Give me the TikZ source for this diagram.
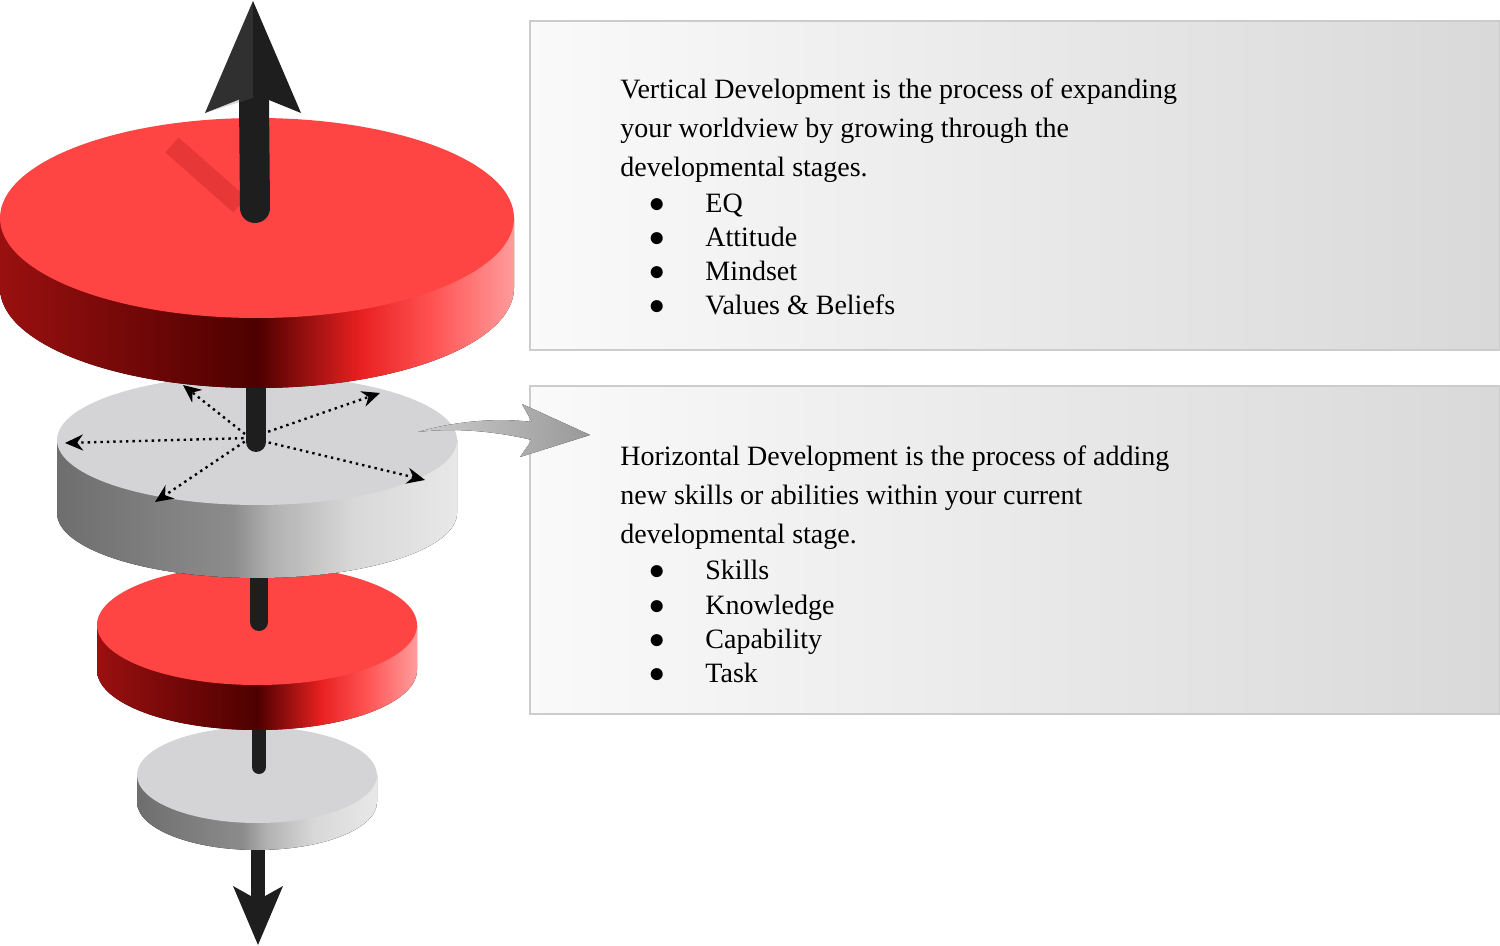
\documentclass[tikz,border=0pt]{standalone}
\usepackage{fontspec}
\setmainfont{Liberation Serif}
\usetikzlibrary{arrows.meta}
\definecolor{rA}{HTML}{9A1010}\definecolor{rB}{HTML}{4E0000}\definecolor{rC}{HTML}{E82020}\definecolor{rD}{HTML}{FF5252}\definecolor{rE}{HTML}{FF9C9C}
\definecolor{gA}{HTML}{6E6E6E}\definecolor{gB}{HTML}{8C8C8C}\definecolor{gC}{HTML}{B2B2B2}\definecolor{gD}{HTML}{D8D8D8}\definecolor{gE}{HTML}{E8E8E8}
\definecolor{redtop}{HTML}{FF4444}\definecolor{graytop}{HTML}{D4D4D6}\definecolor{shaft}{HTML}{1E1E1E}
\pgfdeclarehorizontalshading{redside}{100bp}{color(0bp)=(rA); color(25bp)=(rA); color(50bp)=(rB); color(60bp)=(rC); color(67bp)=(rD); color(75bp)=(rE); color(100bp)=(rE)}
\pgfdeclarehorizontalshading{grayside}{100bp}{color(0bp)=(gA); color(25bp)=(gA); color(47bp)=(gB); color(52bp)=(gC); color(62bp)=(gD); color(75bp)=(gE); color(100bp)=(gE)}
\newcommand{\mydisk}[7]{% cx, cytop, cybot, rx(pt), ry(pt), shading, topcolor
  \fill[shading=#6] (#1,#2) ++(-#4,0) -- ++(0,{(#2-#3)*0.5pt}) arc[start angle=180,end angle=360,x radius=#4,y radius=#5] -- ++(0,{(#3-#2)*0.5pt}) -- cycle;
  \fill[#7] (#1,#2) ellipse[x radius=#4,y radius=#5];}
\tikzset{txt/.style={anchor=base west,inner sep=0pt,font=\fontsize{14}{16}\selectfont},
 dot/.style={dotted,line width=1.2pt,-{Stealth[length=9pt,width=8pt]}},
 box/.style={draw=black!20,line width=0.6pt,left color=black!2,right color=black!15}}
\begin{document}
\begin{tikzpicture}[x=0.5pt,y=-0.5pt]
\useasboundingbox (0,0) rectangle (1500,946);
% boxes
\path[box] (530,21) rectangle (1500,350);
\path[box] (530,386) rectangle (1500,714);
% bottom arrow
\draw[shaft,line width=7pt] (258,850) -- (258,900);
\fill[shaft] (258,945) -- (283,886) -- (258,900) -- (233,886) -- cycle;
% disk 4
\mydisk{257}{775}{802}{60pt}{24pt}{grayside}{graytop}
\draw[shaft,line width=7pt,line cap=round] (259,727) -- (259,767);
% disk 3
\mydisk{257}{625}{670}{80pt}{30pt}{redside}{redtop}
\draw[shaft,line width=9pt,line cap=round] (259,578) -- (259,622);
% disk 2
\mydisk{257}{440}{513}{100pt}{32.5pt}{grayside}{graytop}
\foreach \p in {(183,385),(380,393),(65,443),(425,480),(155,502)}
  \draw[dot] (250,438) -- \p;
\draw[shaft,line width=10pt,line cap=round] (256,385) -- (256,442);
% gray curved arrow
\fill[left color=black!20,right color=black!40] (418,432) .. controls (460,420) and (500,418) .. (532,422) -- (522,404) -- (590,435) -- (520,457) -- (532,440) .. controls (490,430) and (450,428) .. (418,432) -- cycle;
% disk 1
\mydisk{257}{218}{288}{128.5pt}{50pt}{redside}{redtop}
\draw[red!50!black,opacity=0.18,line width=10pt] (172,145) -- (240,205);
\draw[shaft,line width=15pt,line cap=round] (255,208) -- (254,100);
\fill[shaft] (253,1) -- (301,113) -- (264,98) -- (243,98) -- (205,113) -- cycle;
\fill[black!60,opacity=0.25] (253,1) -- (253,98) -- (205,113) -- cycle;
% texts
\node[txt] (t1) at (620,99) {Vertical Development is the process of expanding};
\node[txt] (t2) at (620,138) {your worldview by growing through the};
\node[txt] (t3) at (620,177) {developmental stages.};
\foreach \y/\s [count=\i] in {213/EQ,247/Attitude,281/Mindset,315/Values \& Beliefs}{
  \node[txt] (b\i) at (648,\y) {●};
  \node[txt] (v\i) at (705,\y) {\s};}
\node[txt] (h1) at (620,466) {Horizontal Development is the process of adding};
\node[txt] (h2) at (620,505) {new skills or abilities within your current};
\node[txt] (h3) at (620,544) {developmental stage.};
\foreach \y/\s [count=\i] in {580/Skills,614/Knowledge,648/Capability,682/Task}{
  \node[txt] (c\i) at (648,\y) {●};
  \node[txt] (w\i) at (705,\y) {\s};}
\end{tikzpicture}
\end{document}
